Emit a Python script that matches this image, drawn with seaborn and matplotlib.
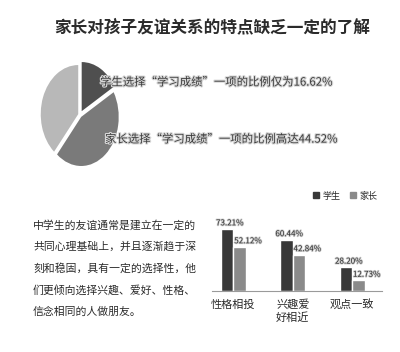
import matplotlib
matplotlib.use("Agg")
import matplotlib.pyplot as plt
import matplotlib.patheffects as pe
from matplotlib.lines import Line2D
import seaborn as sns
import pandas as pd

# ---- data ----
title = "家长对孩子友谊关系的特点缺乏一定的了解"
pie_labels = ["学生", "家长", "其他"]
pie_values = [16.62, 44.52, 38.86]
pie_texts = ["学生选择“学习成绩”一项的比例仅为16.62%",
             "家长选择“学习成绩”一项的比例高达44.52%"]
paragraph = ["中学生的友谊通常是建立在一定的",
             "共同心理基础上，并且逐渐趋于深",
             "刻和稳固，具有一定的选择性，他",
             "们更倾向选择兴趣、爱好、性格、",
             "信念相同的人做朋友。"]
categories = ["性格相投", "兴趣爱\n好相近", "观点一致"]
series_names = ["学生", "家长"]
students = [73.21, 60.44, 28.20]
parents = [52.12, 42.84, 12.73]

sns.set_theme(style="white")
plt.rcParams["font.family"] = ["Noto Sans CJK SC", "DejaVu Sans"]

W, H = 400, 352
fig = plt.figure(figsize=(W / 100, H / 100), dpi=100)
fig.patch.set_facecolor("white")

def fx(px):
    return px / W

def fy(py):
    return 1 - py / H

# title
fig.text(fx(212), fy(27), title, ha="center", va="center", fontsize=12,
         fontweight="bold", color="#2b2b2b")

# ---- pie ----
pax = fig.add_axes([fx(38), fy(170), fx(84), (170 - 60) / H])
pie_colors = ["#4f4f4f", "#7a7a7a", "#b8b8b8"]
pax.pie(pie_values, colors=pie_colors, startangle=90, counterclock=False,
        explode=[0.09, 0.05, 0.05], wedgeprops=dict(linewidth=0))
pax.set_aspect("auto")
pax.set_xlim(-1.12, 1.12)
pax.set_ylim(-1.12, 1.12)
pax.axis("off")

shadow = [pe.withStroke(linewidth=1.6, foreground="#d8d8d8")]
fig.text(fx(100), fy(82), pie_texts[0], ha="left", va="center", fontsize=8.2,
         color="#3a3a3a", path_effects=shadow)
fig.text(fx(105), fy(139), pie_texts[1], ha="left", va="center", fontsize=8.2,
         color="#3a3a3a", path_effects=shadow)

# paragraph
for i, line in enumerate(paragraph):
    fig.text(fx(33), fy(225 + i * 21.7), line, ha="left", va="center",
             fontsize=7.8, color="#2b2b2b")

# ---- bar chart ----
df = pd.DataFrame({
    "cat": categories * 2,
    "who": [series_names[0]] * 3 + [series_names[1]] * 3,
    "val": students + parents,
})
bar_colors = ["#383838", "#8a8a8a"]
bax = fig.add_axes([fx(212), fy(291), fx(170), 91 / H])
sns.barplot(data=df, x="cat", y="val", hue="who", palette=bar_colors,
            width=0.42, ax=bax, legend=False, saturation=1)
bax.set_xlim(-0.36, 2.5)
bax.set_ylim(0, 107)
for s in ["top", "right", "left"]:
    bax.spines[s].set_visible(False)
bax.spines["bottom"].set_color("#9a9a9a")
bax.spines["bottom"].set_linewidth(0.8)
bax.set_yticks([])
bax.set_xlabel("")
bax.set_ylabel("")
bax.tick_params(axis="x", length=0, pad=6, labelsize=8, colors="#2b2b2b")
bax.patch.set_alpha(0)

for k, cont in enumerate(bax.containers):
    labels = [f"{v:.2f}%" for v in cont.datavalues]
    anns = bax.bar_label(cont, labels=labels, fontsize=5.8, color="#2b2b2b",
                         padding=1,
                         path_effects=[pe.withStroke(linewidth=1.2, foreground="#cfcfcf")])
    for a in anns:
        a.xyann = (2 if k == 0 else 6, 1)

handles = [Line2D([], [], marker="s", linestyle="", color=c, markersize=4)
           for c in bar_colors]
fig.legend(handles, series_names, loc="center", bbox_to_anchor=(fx(345), fy(196)),
           ncol=2, frameon=False, fontsize=6.5, handletextpad=0.3,
           columnspacing=1.0, handlelength=0.8)

fig.savefig("out.png", dpi=100, facecolor="white")
